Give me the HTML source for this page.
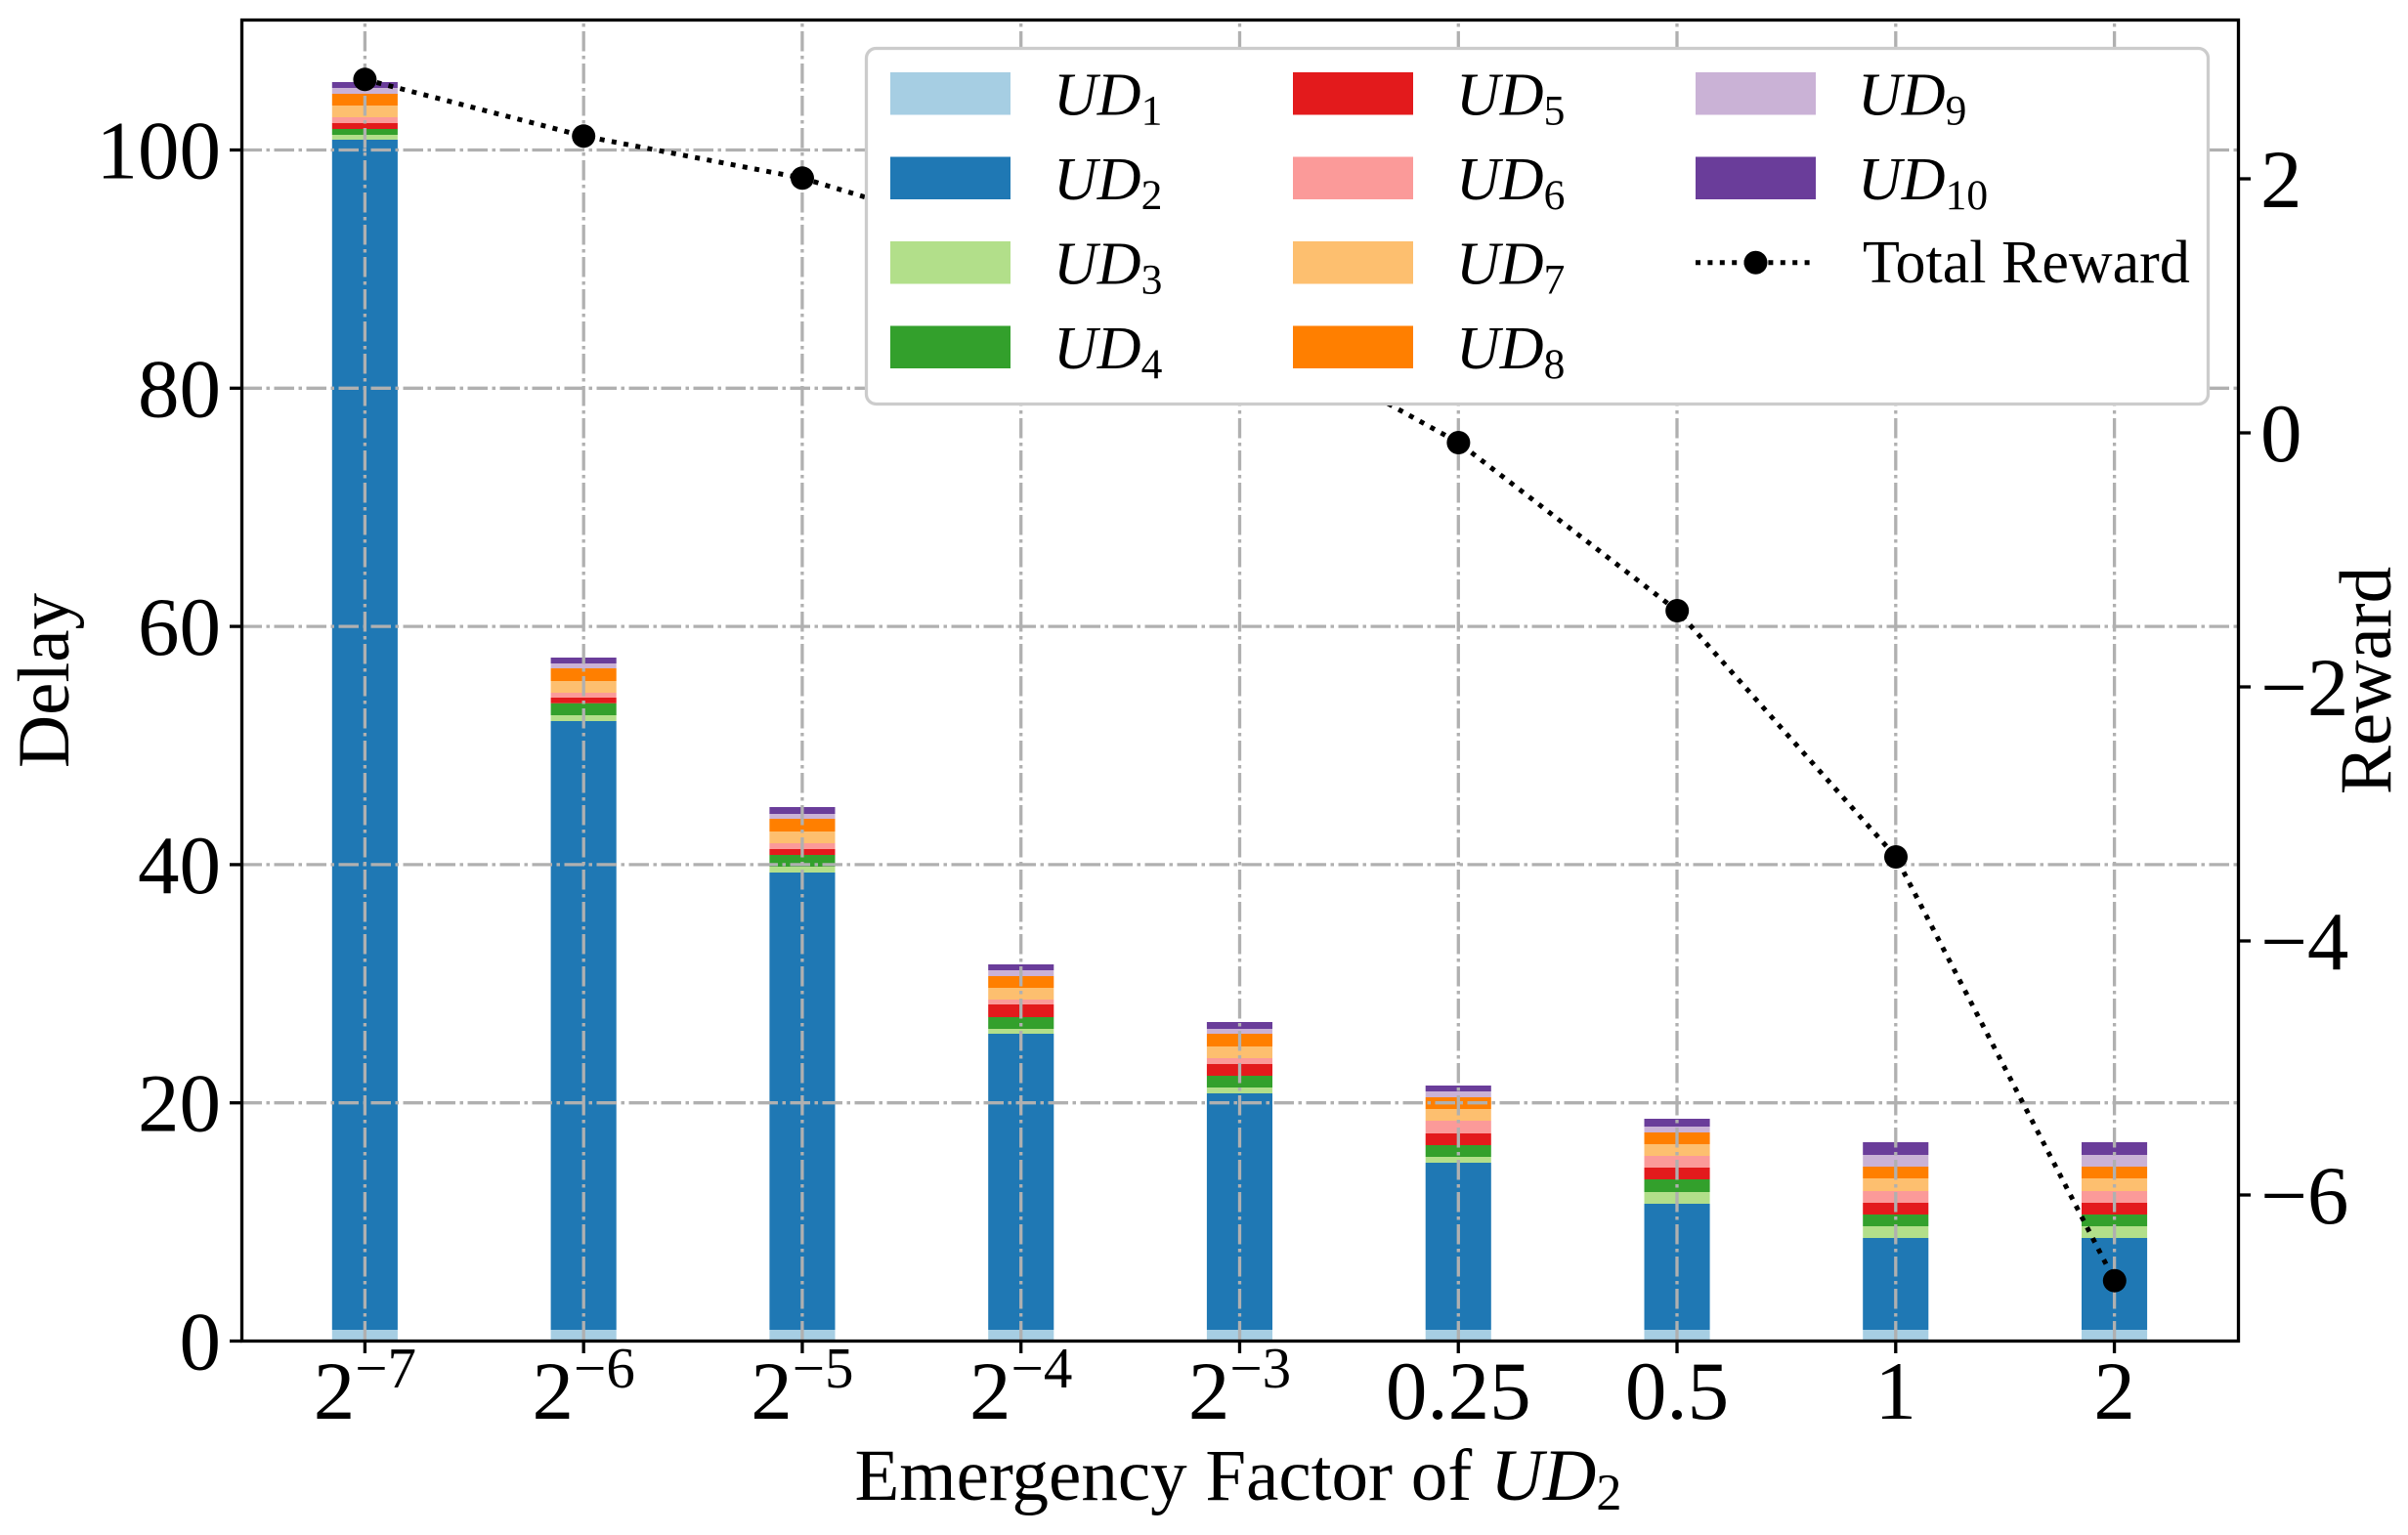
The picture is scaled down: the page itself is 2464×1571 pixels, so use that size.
<!DOCTYPE html>
<html><head><meta charset="utf-8"><style>
html,body{margin:0;padding:0;background:#fff;}
svg{display:block;}
text{font-family:"Liberation Serif","Times New Roman",serif;fill:#000;}
</style></head><body>
<svg xmlns="http://www.w3.org/2000/svg" width="2464" height="1571" viewBox="0 0 2464 1571">
<rect x="0" y="0" width="2464" height="1571" fill="#fff"/>
<g id="bars"></g>
<g id="grid" stroke="#b0b0b0" stroke-width="3.3" fill="none" stroke-dasharray="20.5 4.5 3.5 4.5"></g>
<g id="reward"></g>
<g stroke="#000" stroke-width="3.3" fill="none">
<rect x="247.5" y="20.5" width="2043" height="1352"/>
</g>
<g id="ticks" stroke="#000" stroke-width="3.3"></g>
<g id="labels" font-size="85"></g>
<text x="1267" y="1535" font-size="75" text-anchor="middle">Emergency Factor of <tspan font-style="italic">UD</tspan><tspan font-size="52.5" dy="10">2</tspan></text>
<text transform="translate(70,696.5) rotate(-90)" font-size="75" text-anchor="middle">Delay</text>
<text transform="translate(2446,696.5) rotate(-90)" font-size="75" text-anchor="middle">Reward</text>
<rect x="886.5" y="49.5" width="1373" height="364" rx="10" ry="10" fill="#fff" stroke="#cccccc" stroke-width="3.3"/>
<g id="legend" font-size="62"></g>
</svg>
<script>
(function(){
var NS="http://www.w3.org/2000/svg";
function el(tag,attrs,parent,txt){var e=document.createElementNS(NS,tag);for(var k in attrs)e.setAttribute(k,attrs[k]);if(txt!==undefined)e.textContent=txt;parent.appendChild(e);return e;}
var colors=["#a6cee3","#1f78b4","#b2df8a","#33a02c","#e31a1c","#fb9a99","#fdbf6f","#ff7f00","#cab2d6","#6a3d9a"];
var tops=[
[1361,143,138,132,126,120,108,96,90,84],
[1361,738,732,719.7,714,709,697,684,679,673],
[1361,893,887,875,869,863,851,838,833,826],
[1361,1058,1053,1041,1028,1023,1011,999,993,987],
[1361,1119,1113,1101,1089,1083,1071,1058,1053,1046],
[1361,1190,1184,1172,1160,1147,1135,1123,1117,1111],
[1361,1232,1220,1207,1195,1183,1171,1159,1153,1145],
[1361,1267,1255,1243,1231,1219,1206,1194,1182,1169],
[1361,1267,1255,1243,1231,1219,1206,1194,1182,1169]];
var x0=373.4,dx=223.77,bw=67.1,y0=1372.5;
var bars=document.getElementById("bars");
for(var i=0;i<9;i++){var cx=x0+dx*i;var bot=y0;
 for(var k=0;k<10;k++){var t=tops[i][k];el("rect",{x:(cx-bw/2).toFixed(1),y:t,width:bw,height:(bot-t).toFixed(2),fill:colors[k]},bars);bot=t;}}
var grid=document.getElementById("grid");
for(var i=0;i<9;i++){var cx=x0+dx*i;el("path",{d:"M"+cx.toFixed(1)+" 1372.5 L"+cx.toFixed(1)+" 20.5"},grid);}
function yv(v){return 1372.5-12.19*v;}
for(var v=20;v<=100;v+=20){var y=yv(v);el("path",{d:"M247.5 "+y.toFixed(1)+" L2290.5 "+y.toFixed(1)},grid);}
var rw=document.getElementById("reward");
var pts=[[373.4,81.3],[597.2,139.3],[821,182.3],[1044.8,250],[1268.6,329],[1492.4,453],[1716.2,625],[1940,877],[2163.8,1310.7]];
var d="M"+pts.map(function(p){return p[0]+" "+p[1];}).join(" L");
el("path",{d:d,stroke:"#000","stroke-width":"5","fill":"none","stroke-dasharray":"5 7.4"},rw);
pts.forEach(function(p){el("circle",{cx:p[0],cy:p[1],r:"12",fill:"#000"},rw);});
var tk=document.getElementById("ticks");
for(var i=0;i<9;i++){var cx=x0+dx*i;el("line",{x1:cx,y1:1372.5,x2:cx,y2:1385},tk);}
for(var v=0;v<=100;v+=20){var y=yv(v);el("line",{x1:235,y1:y,x2:247.5,y2:y},tk);}
var ry=[[2,183],[0,443],[-2,703],[-4,963],[-6,1223]];
ry.forEach(function(r){el("line",{x1:2290.5,y1:r[1],x2:2303,y2:r[1]},tk);});
var lb=document.getElementById("labels");
for(var v=0;v<=100;v+=20){el("text",{x:226,y:(yv(v)+29).toFixed(1),"text-anchor":"end"},lb,String(v));}
ry.forEach(function(r){el("text",{x:2313,y:r[1]+29},lb,(r[0]<0?"\u2212"+(-r[0]):String(r[0])));});
var xl=[["2","\u22127"],["2","\u22126"],["2","\u22125"],["2","\u22124"],["2","\u22123"],["0.25"],["0.5"],["1"],["2"]];
for(var i=0;i<9;i++){var cx=x0+dx*i;var t=el("text",{x:cx.toFixed(1),y:1452,"text-anchor":"middle"},lb,xl[i][0]);
 if(xl[i].length>1){el("tspan",{"font-size":"59",dy:"-32"},t,xl[i][1]);}}
var lg=document.getElementById("legend");
var colx=[911,1323,1735],txx=[1078,1490,1901],rowt=[74,160.5,247,333.5];
for(var k=0;k<10;k++){var c=Math.floor(k/4),r=k%4;
 el("rect",{x:colx[c],y:rowt[r],width:123,height:43.5,fill:colors[k]},lg);
 var t=el("text",{x:txx[c],y:rowt[r]+43.5},lg);
 el("tspan",{"font-style":"italic"},t,"UD");
 el("tspan",{"font-size":"43.5",dy:"10"},t,String(k+1));}
var hy=rowt[2]+21.75;
el("path",{d:"M1735 "+hy+" L1858 "+hy,stroke:"#000","stroke-width":"5","stroke-dasharray":"5 7.4",fill:"none"},lg);
el("circle",{cx:1796.5,cy:hy,r:"12",fill:"#000"},lg);
el("text",{x:1906,y:rowt[2]+42},lg,"Total Reward");
})();
</script>
</body></html>
